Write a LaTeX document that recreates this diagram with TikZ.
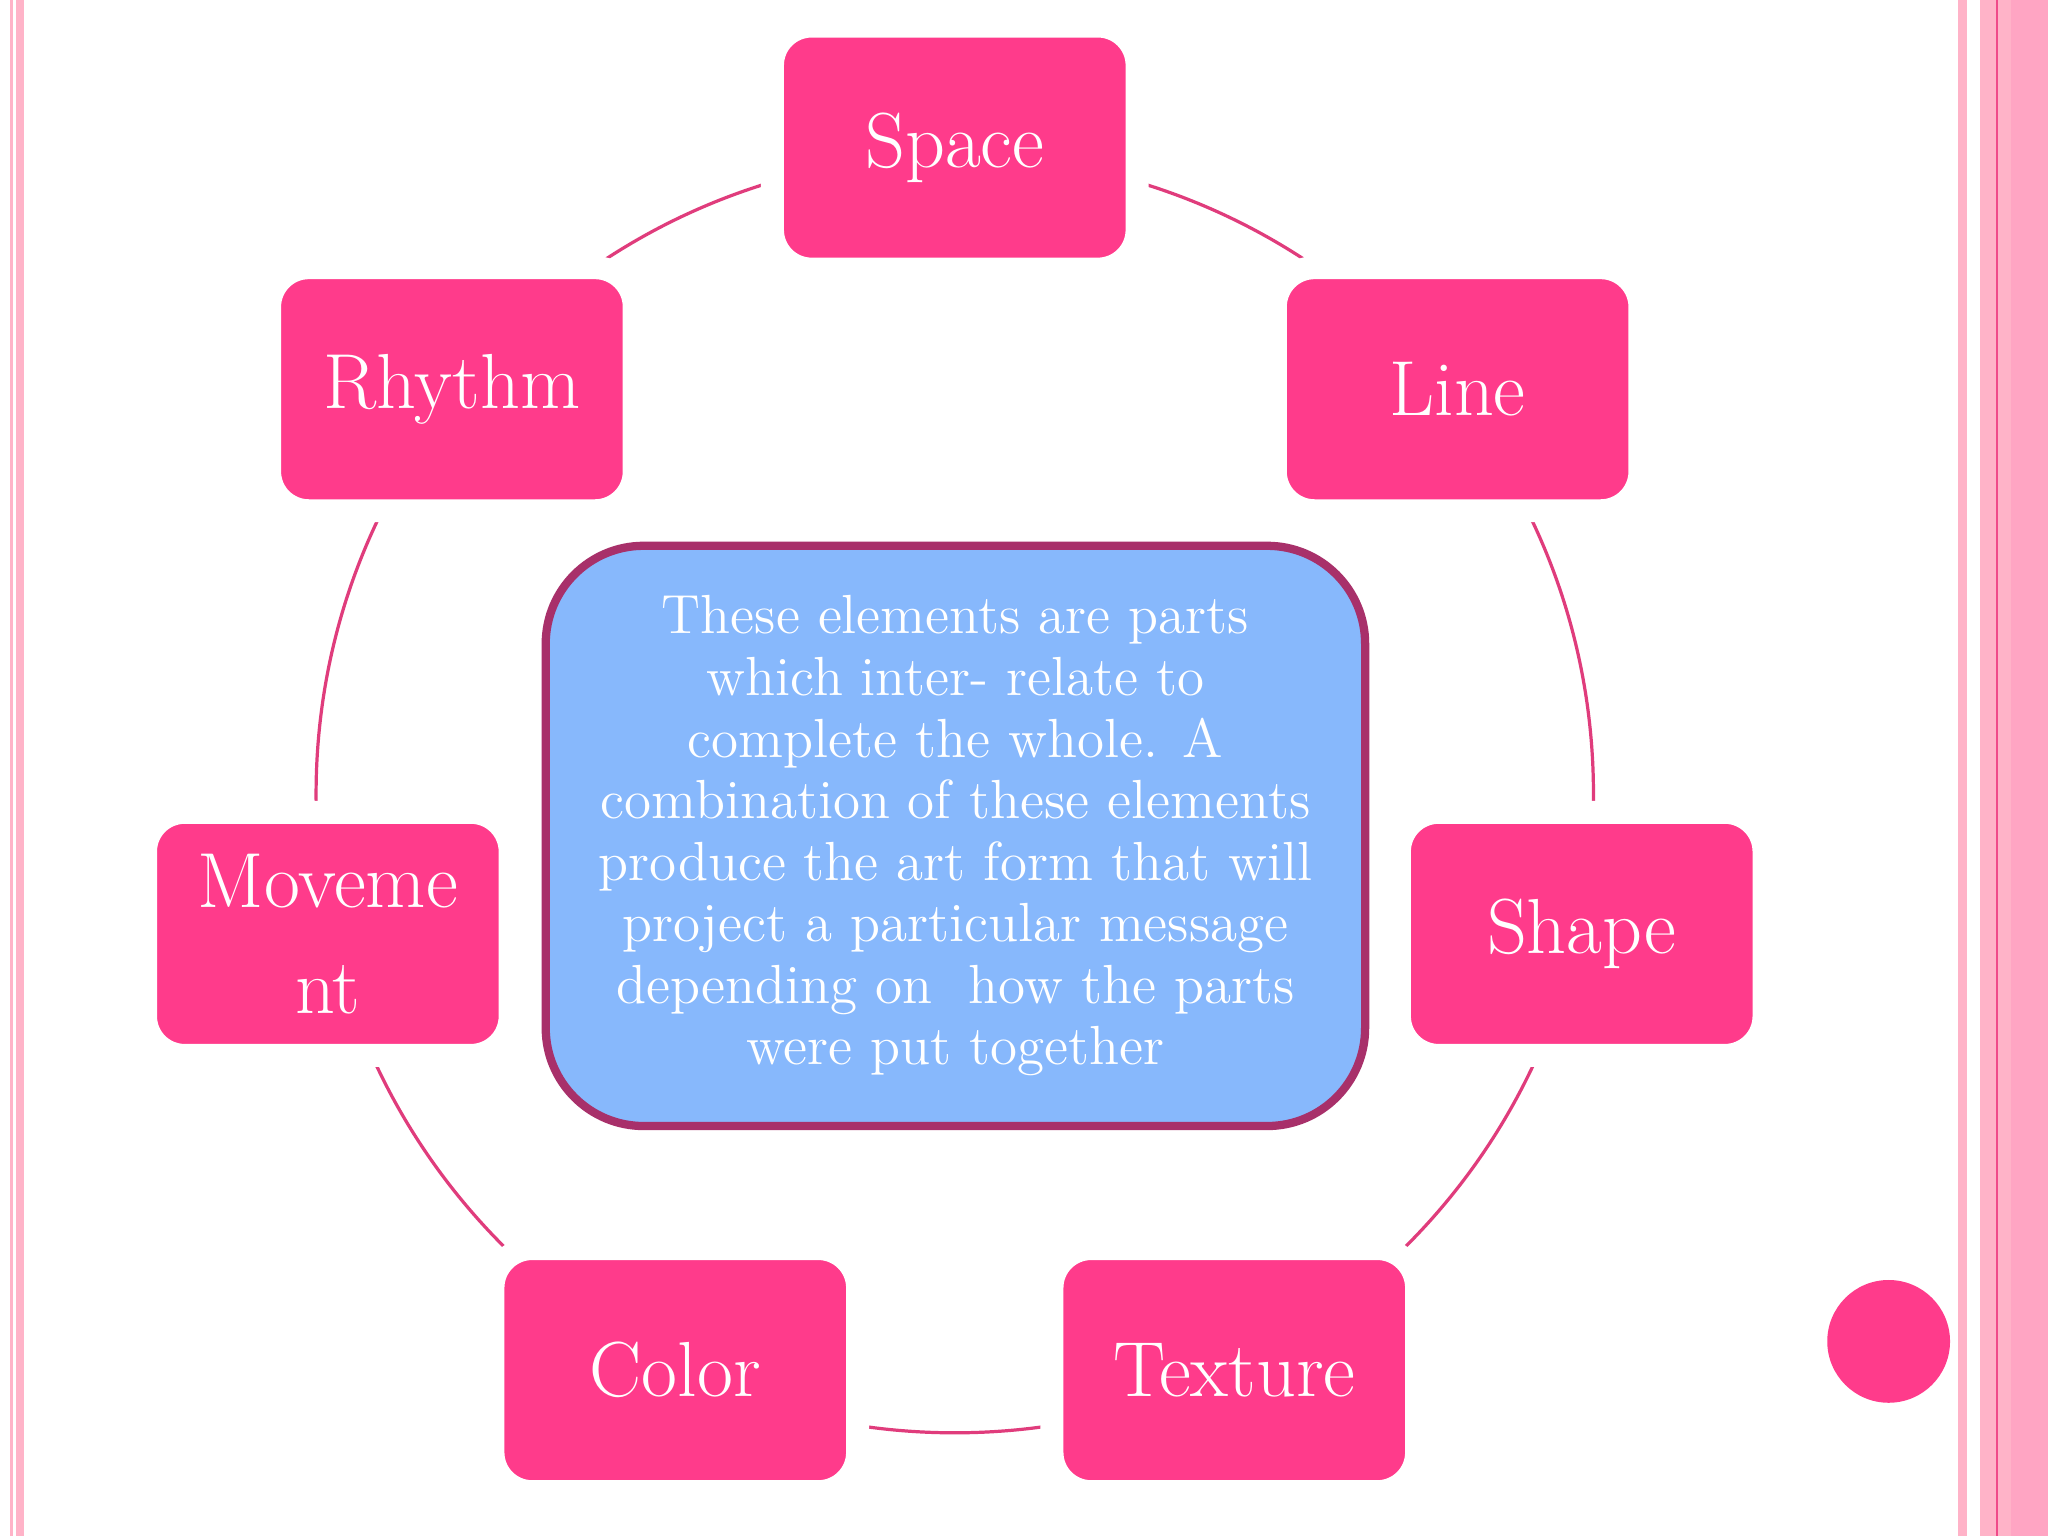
\documentclass[tikz,border=0pt]{standalone}
\begin{document}
\begin{tikzpicture}[x=0.01cm,y=-0.01cm,
  box/.style={fill=boxpink,draw=white,line width=5pt,rounded corners=0.3cm,minimum width=2.79cm,minimum height=1.86cm,text=white,font=\fontsize{17}{18}\selectfont,align=center,inner sep=0pt},
  ring/.style={draw=arcpink,line width=0.7pt}]
\definecolor{boxpink}{HTML}{FF3B8B}
\definecolor{arcpink}{HTML}{E03C7C}
\definecolor{stripe}{HTML}{FFB3C8}
\definecolor{dstripe}{HTML}{F04A8A}
\definecolor{cblue}{HTML}{87B8FC}
\definecolor{cborder}{HTML}{A8306A}
\useasboundingbox (0,0) rectangle (1568,1176);
\fill[white] (0,0) rectangle (1568,1176);
% stripes
\fill[stripe] (7.7,0) rectangle (10,1176);
\fill[stripe] (12,0) rectangle (18,1176);
\fill[stripe] (1499,0) rectangle (1506,1176);
\fill[stripe] (1516,0) rectangle (1568,1176);
\fill[stripe!80!boxpink!90] (1540,0) rectangle (1568,1176);
\fill[dstripe] (1528,0) rectangle (1530,1176);
% ring
\draw[ring] (731,608) circle (489);
% nodes
\node[box] (space) at (731,113) {Space};
\node[box] (line) at (1116,298) {Line};
\node[box] (shape) at (1211,715) {Shape};
\node[box] (texture) at (945,1049) {Texture};
\node[box] (color) at (517,1049) {Color};
\node[box] (move) at (251,715) {Moveme\\[5pt]nt};
\node[box] (rhythm) at (346,298) {Rhythm};
\node[fill=cblue,draw=cborder,line width=1.8pt,rounded corners=0.75cm,minimum width=6.27cm,minimum height=4.44cm,text=white,align=center,font=\fontsize{12}{13.4}\selectfont] (center) at (731.5,640) {These elements are parts\\which inter- relate to\\complete the whole. A\\combination of these elements\\produce the art form that will\\project a particular message\\depending on\ \ how the parts\\were put together};
\fill[boxpink] (1446,1027) circle (47) coordinate (dot);
\end{tikzpicture}
\end{document}
